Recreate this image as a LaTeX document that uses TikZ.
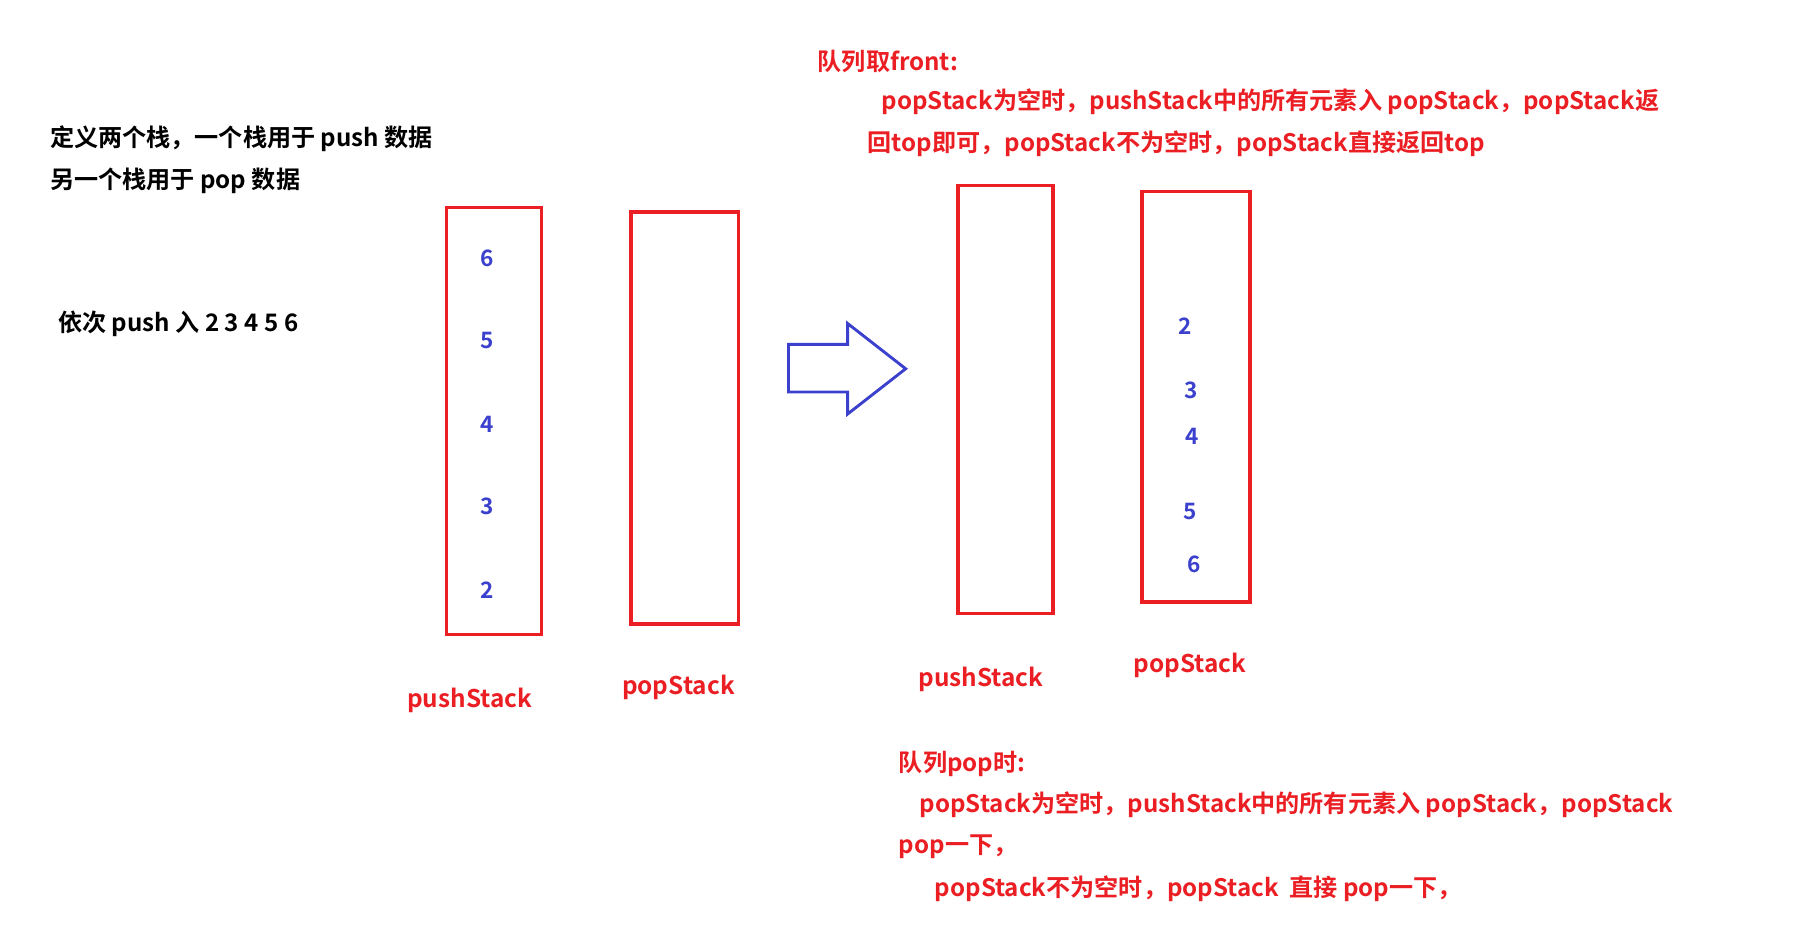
\documentclass[tikz,border=0pt]{standalone}
\usepackage{fontspec}
\setmainfont{Noto Sans CJK SC Bold}
\definecolor{myred}{RGB}{235,30,35}
\definecolor{myblue}{RGB}{60,65,205}
\begin{document}
\begin{tikzpicture}[x=1pt,y=-1pt,
  txt/.style={anchor=west,inner sep=0,font=\fontsize{20.8}{24}\selectfont},
  rtxt/.style={txt,text=myred},
  num/.style={inner sep=0,text=myblue,font=\fontsize{19.5}{22}\selectfont},
  lab/.style={inner sep=0,text=myred,font=\fontsize{21}{24}\selectfont},
  stack/.style={draw=myred,line width=3pt}]
\useasboundingbox (0,0) rectangle (1560,818);
\node[txt] (t1) at (43,120) {定义两个栈，一个栈用于 push 数据};
\node[txt] (t2) at (43,156) {另一个栈用于 pop 数据};
\node[txt] (t3) at (50,279) {依次 push 入 2 3 4 5 6};
\draw[stack] (385,179) rectangle (467,547);
\node[num] (a6) at (420,223) {6};
\node[num] (a5) at (420,294) {5};
\node[num] (a4) at (420,366) {4};
\node[num] (a3) at (420,437) {3};
\node[num] (a2) at (420,509) {2};
\node[lab] (l1) at (405,604) {pushStack};
\draw[stack] (544,183) rectangle (637,538);
\node[lab] (l2) at (585,593) {popStack};
\draw[myblue,line width=2.5pt,line join=miter] (680,297) -- (731,297) -- (731,279) -- (781,318) -- (731,357) -- (731,338) -- (680,338) -- cycle;
\draw[stack] (826,160) rectangle (908,529);
\node[lab] (l3) at (846,586) {pushStack};
\draw[stack] (985,165) rectangle (1078,519);
\node[num] (b2) at (1022,281) {2};
\node[num] (b3) at (1027,337) {3};
\node[num] (b4) at (1028,376) {4};
\node[num] (b5) at (1026,441) {5};
\node[num] (b6) at (1030,487) {6};
\node[lab] (l4) at (1026,574) {popStack};
\node[rtxt] (r1) at (705,53) {队列取front:};
\node[rtxt] (r2) at (760,88) {popStack为空时，pushStack中的所有元素入 popStack，popStack返};
\node[rtxt] (r3) at (748,124) {回top即可，popStack不为空时，popStack直接返回top};
\node[rtxt] (s1) at (775,659) {队列pop时:};
\node[rtxt] (s2) at (793,694) {popStack为空时，pushStack中的所有元素入 popStack，popStack};
\node[rtxt] (s3) at (775,730) {pop一下，};
\node[rtxt] (s4) at (806,766) {popStack不为空时，popStack\ \ 直接 pop一下，};
\end{tikzpicture}
\end{document}
